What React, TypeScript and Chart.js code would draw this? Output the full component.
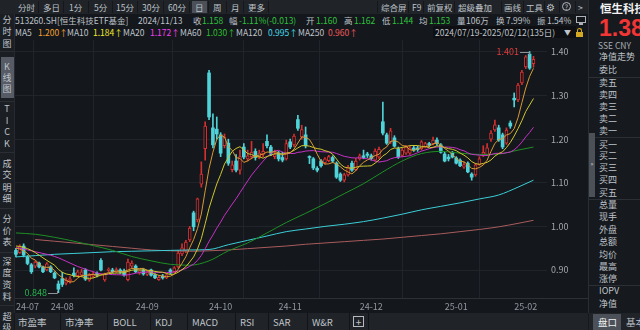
import React, { useEffect, useRef } from "react";
import { Chart, registerables } from "chart.js";

Chart.register(...registerables);

const FONT = '"Noto Sans CJK SC", "Noto Sans", sans-serif';

// ---------------- data (513260.SH daily, 2024/07/19 - 2025/02/12) ----------------
const opens = [
  0.945, 0.940, 0.955, 0.930, 0.912, 0.909, 0.916, 0.907, 0.900, 0.907,
  0.893, 0.868, 0.880, 0.870, 0.875, 0.893, 0.887, 0.888, 0.900, 0.877,
  0.886, 0.892, 0.922, 0.877, 0.899, 0.900, 0.896, 0.900, 0.898, 0.878,
  0.909, 0.909, 0.893, 0.900, 0.890, 0.900, 0.889, 0.878, 0.886, 0.882,
  0.900, 0.896, 0.907, 0.937, 0.944, 0.969, 1.031, 1.015, 1.097, 1.178,
  1.352, 1.226, 1.223, 1.210, 1.185, 1.191, 1.130, 1.150, 1.129, 1.182,
  1.155, 1.160, 1.172, 1.160, 1.165, 1.195, 1.182, 1.160, 1.168, 1.158,
  1.155, 1.194, 1.187, 1.245, 1.205, 1.210, 1.160, 1.155, 1.133, 1.150,
  1.146, 1.151, 1.158, 1.145, 1.120, 1.106, 1.118, 1.145, 1.130, 1.155,
  1.162, 1.166, 1.162, 1.152, 1.159, 1.240, 1.210, 1.194, 1.203, 1.178,
  1.163, 1.168, 1.168, 1.180, 1.180, 1.178, 1.183, 1.190, 1.190, 1.198,
  1.187, 1.166, 1.159, 1.168, 1.157, 1.152, 1.136, 1.145, 1.120, 1.118,
  1.142, 1.165, 1.164, 1.200, 1.221, 1.226, 1.210, 1.191, 1.237, 1.294,
  1.290, 1.329, 1.366, 1.395, 1.373,
];
const highs = [
  0.950, 0.958, 0.960, 0.933, 0.915, 0.921, 0.918, 0.909, 0.917, 0.910,
  0.896, 0.875, 0.895, 0.882, 0.885, 0.905, 0.900, 0.902, 0.903, 0.892,
  0.895, 0.896, 0.926, 0.893, 0.905, 0.904, 0.905, 0.903, 0.902, 0.925,
  0.921, 0.912, 0.901, 0.903, 0.898, 0.902, 0.892, 0.887, 0.890, 0.892,
  0.903, 0.908, 0.945, 0.960, 0.968, 1.000, 1.035, 1.065, 1.148, 1.240,
  1.358, 1.258, 1.251, 1.215, 1.212, 1.200, 1.150, 1.165, 1.175, 1.190,
  1.175, 1.195, 1.178, 1.175, 1.190, 1.210, 1.186, 1.175, 1.172, 1.170,
  1.198, 1.200, 1.212, 1.255, 1.232, 1.228, 1.162, 1.158, 1.137, 1.153,
  1.158, 1.163, 1.162, 1.148, 1.123, 1.122, 1.140, 1.150, 1.156, 1.166,
  1.175, 1.170, 1.166, 1.178, 1.182, 1.285, 1.214, 1.225, 1.208, 1.182,
  1.180, 1.186, 1.184, 1.186, 1.184, 1.197, 1.193, 1.193, 1.205, 1.203,
  1.190, 1.170, 1.165, 1.172, 1.160, 1.155, 1.148, 1.148, 1.123, 1.145,
  1.160, 1.185, 1.190, 1.220, 1.244, 1.232, 1.214, 1.226, 1.242, 1.306,
  1.328, 1.358, 1.392, 1.401, 1.390,
];
const lows = [
  0.930, 0.938, 0.930, 0.912, 0.892, 0.905, 0.905, 0.894, 0.898, 0.894,
  0.880, 0.848, 0.862, 0.866, 0.870, 0.884, 0.885, 0.884, 0.876, 0.874,
  0.883, 0.884, 0.898, 0.874, 0.896, 0.893, 0.893, 0.892, 0.886, 0.875,
  0.905, 0.894, 0.890, 0.888, 0.887, 0.886, 0.880, 0.876, 0.879, 0.880,
  0.891, 0.894, 0.905, 0.933, 0.940, 0.965, 0.990, 1.010, 1.090, 1.152,
  1.245, 1.180, 1.200, 1.160, 1.180, 1.140, 1.125, 1.125, 1.120, 1.155,
  1.150, 1.155, 1.152, 1.155, 1.160, 1.180, 1.162, 1.155, 1.150, 1.148,
  1.152, 1.178, 1.183, 1.220, 1.200, 1.180, 1.144, 1.130, 1.125, 1.136,
  1.143, 1.148, 1.146, 1.110, 1.103, 1.102, 1.115, 1.126, 1.128, 1.152,
  1.155, 1.158, 1.152, 1.150, 1.156, 1.210, 1.188, 1.190, 1.182, 1.156,
  1.160, 1.165, 1.165, 1.172, 1.172, 1.175, 1.180, 1.183, 1.187, 1.186,
  1.168, 1.148, 1.150, 1.157, 1.143, 1.137, 1.133, 1.123, 1.106, 1.115,
  1.140, 1.160, 1.162, 1.195, 1.218, 1.195, 1.178, 1.188, 1.225, 1.274,
  1.286, 1.325, 1.362, 1.360, 1.365,
];
const closes = [
  0.936, 0.953, 0.934, 0.915, 0.896, 0.918, 0.907, 0.896, 0.914, 0.896,
  0.882, 0.856, 0.867, 0.877, 0.880, 0.887, 0.896, 0.896, 0.879, 0.888,
  0.891, 0.888, 0.900, 0.890, 0.902, 0.896, 0.901, 0.895, 0.889, 0.918,
  0.916, 0.896, 0.898, 0.891, 0.895, 0.888, 0.882, 0.883, 0.882, 0.889,
  0.893, 0.905, 0.939, 0.951, 0.964, 0.996, 0.999, 1.063, 1.120, 1.230,
  1.251, 1.187, 1.212, 1.168, 1.205, 1.145, 1.141, 1.129, 1.160, 1.159,
  1.162, 1.170, 1.158, 1.168, 1.172, 1.185, 1.168, 1.165, 1.155, 1.152,
  1.190, 1.182, 1.207, 1.225, 1.222, 1.185, 1.158, 1.134, 1.129, 1.139,
  1.155, 1.160, 1.150, 1.113, 1.106, 1.118, 1.136, 1.129, 1.150, 1.162,
  1.158, 1.163, 1.156, 1.173, 1.177, 1.214, 1.191, 1.219, 1.184, 1.159,
  1.175, 1.182, 1.180, 1.175, 1.176, 1.194, 1.190, 1.186, 1.198, 1.190,
  1.170, 1.150, 1.155, 1.159, 1.145, 1.139, 1.142, 1.125, 1.113, 1.141,
  1.155, 1.170, 1.180, 1.214, 1.233, 1.198, 1.182, 1.221, 1.230, 1.290,
  1.324, 1.354, 1.389, 1.363, 1.383,
];

// MA values on the first days (before the window has enough candles)
const ma5Lead = [0.950, 0.948, 0.944, 0.938];
const ma10Lead = [0.955, 0.954, 0.952, 0.949, 0.945, 0.940, 0.934, 0.928, 0.922];
const ma20Lead = [
  0.951, 0.950, 0.948, 0.946, 0.944, 0.942, 0.940, 0.938, 0.936, 0.934,
  0.931, 0.928, 0.924, 0.920, 0.916, 0.912, 0.908, 0.905, 0.902,
];

// long moving averages at these candle indices
const maIdx = [0, 5, 10, 15, 20, 25, 30, 35, 40, 45, 50, 55, 60, 65, 70, 75, 80, 85, 90, 95, 100, 105, 110, 115, 120, 125, 130, 134];
const ma60 = [0.985, 0.982, 0.975, 0.966, 0.956, 0.945, 0.931, 0.921, 0.913, 0.911, 0.921, 0.944, 0.962, 0.985, 1.009, 1.030, 1.052, 1.075, 1.098, 1.125, 1.150, 1.167, 1.172, 1.168, 1.165, 1.166, 1.175, 1.182];
const ma120 = [0.930, 0.933, 0.936, 0.938, 0.940, 0.942, 0.943, 0.944, 0.945, 0.946, 0.947, 0.958, 0.968, 0.978, 0.988, 0.994, 1.000, 1.005, 1.011, 1.019, 1.028, 1.038, 1.046, 1.054, 1.063, 1.072, 1.090, 1.106];
const ma250 = [null, 0.970, 0.966, 0.962, 0.958, 0.954, 0.950, 0.946, 0.944, 0.943, 0.944, 0.946, 0.949, 0.952, 0.955, 0.959, 0.962, 0.965, 0.968, 0.971, 0.975, 0.979, 0.983, 0.988, 0.993, 0.999, 1.007, 1.014];

const monthStartIdx = [0, 9, 31, 50, 68, 89, 111, 129];
const monthLabels = ["24-07", "24-08", "24-09", "24-10", "24-11", "24-12", "25-01", "25-02"];
const priceTicks = [0.9, 1.0, 1.1, 1.2, 1.3, 1.4];

// ---------------- styles ----------------
const BG = "#14171c";
const UP = "#d3302f";
const DOWN = "#4fd3d8";
const GRID = "#21252b";
const LBL = "#bfc3c9";
const C_MA5 = "#d99a32";
const C_MA10 = "#cfc72c";
const C_MA20 = "#c832c8";
const C_MA60 = "#1f8f25";
const C_MA120 = "#3ccfd8";
const C_MA250 = "#a95c5c";

function movingAverage(n: number, lead: number[]) {
  return closes.map((_, i) => {
    if (i < n - 1) return { x: i, y: lead[i] };
    let s = 0;
    for (let k = i - n + 1; k <= i; k++) s += closes[k];
    return { x: i, y: s / n };
  });
}

const isUp = (i: number) => closes[i] >= opens[i];

const extremeLabels = {
  id: "extremeLabels",
  afterDatasetsDraw(chart: any) {
    const { ctx, scales } = chart;
    const xs = scales.x;
    const ys = scales.y;
    let hi = 0;
    let lo = 0;
    highs.forEach((h, i) => { if (h > highs[hi]) hi = i; });
    lows.forEach((l, i) => { if (l < lows[lo]) lo = i; });
    ctx.save();
    ctx.font = `9px ${FONT}`;
    ctx.textBaseline = "middle";
    ctx.textAlign = "right";
    ctx.strokeStyle = "#8d9298";
    ctx.lineWidth = 1;
    const hx = Math.round(xs.getPixelForValue(hi));
    const hy = Math.round(ys.getPixelForValue(highs[hi]));
    ctx.beginPath();
    ctx.moveTo(hx - 10, hy + 0.5);
    ctx.lineTo(hx - 0.5, hy + 0.5);
    ctx.lineTo(hx - 0.5, hy + 3);
    ctx.stroke();
    ctx.fillStyle = "#e03c3c";
    ctx.fillText(highs[hi].toFixed(3), hx - 11, hy);
    const lx = Math.round(xs.getPixelForValue(lo));
    const ly = Math.round(ys.getPixelForValue(lows[lo]));
    ctx.beginPath();
    ctx.moveTo(lx - 10, ly + 0.5);
    ctx.lineTo(lx - 0.5, ly + 0.5);
    ctx.lineTo(lx - 0.5, ly - 2);
    ctx.stroke();
    ctx.fillStyle = "#24b34c";
    ctx.fillText(lows[lo].toFixed(3), lx - 11, ly);
    ctx.restore();
  },
};

function KChart() {
  const ref = useRef<HTMLCanvasElement | null>(null);
  useEffect(() => {
    if (!ref.current) return;
    const lineDs = (label: string, data: any[], color: string, smooth: boolean) => ({
      type: "line",
      label,
      data,
      borderColor: color,
      borderWidth: 1,
      pointRadius: 0,
      fill: false,
      spanGaps: true,
      cubicInterpolationMode: smooth ? "monotone" : "default",
      tension: 0,
      order: 0,
    });
    const chart = new Chart(ref.current, {
      type: "bar",
      data: {
        datasets: [
          lineDs("MA5", movingAverage(5, ma5Lead), C_MA5, false),
          lineDs("MA10", movingAverage(10, ma10Lead), C_MA10, false),
          lineDs("MA20", movingAverage(20, ma20Lead), C_MA20, false),
          lineDs("MA60", maIdx.map((x, k) => ({ x, y: ma60[k] })), C_MA60, true),
          lineDs("MA120", maIdx.map((x, k) => ({ x, y: ma120[k] })), C_MA120, true),
          lineDs("MA250", maIdx.map((x, k) => ({ x, y: ma250[k] })), C_MA250, true),
          {
            type: "bar",
            label: "body",
            data: opens.map((o, i) => ({ x: i, y: [Math.min(o, closes[i]), Math.max(o, closes[i])] })),
            barThickness: 3,
            grouped: false,
            minBarLength: 1,
            borderSkipped: false,
            backgroundColor: (c: any) => (isUp(c.dataIndex) ? BG : DOWN),
            borderColor: (c: any) => (isUp(c.dataIndex) ? UP : DOWN),
            borderWidth: (c: any) => (isUp(c.dataIndex) ? 1 : 0),
            order: 1,
          },
          {
            type: "bar",
            label: "wick",
            data: highs.map((h, i) => ({ x: i, y: [lows[i], h] })),
            barThickness: 1,
            grouped: false,
            borderWidth: 0,
            backgroundColor: (c: any) => (isUp(c.dataIndex) ? UP : DOWN),
            order: 2,
          },
        ] as any,
      },
      options: {
        animation: false,
        responsive: false,
        devicePixelRatio: 1,
        events: [],
        layout: { padding: 0 },
        plugins: { legend: { display: false }, tooltip: { enabled: false } },
        scales: {
          x: {
            type: "linear",
            min: -0.5,
            max: 137.5,
            offset: false,
            border: { display: false },
            grid: { color: GRID, drawTicks: false },
            ticks: {
              autoSkip: false,
              maxRotation: 0,
              align: "start",
              padding: 3,
              color: "#9297a0",
              font: { size: 9, family: FONT },
              callback: (v: any) => {
                const k = monthStartIdx.indexOf(Number(v));
                return k >= 0 ? monthLabels[k] : "";
              },
            },
            afterBuildTicks: (s: any) => {
              s.ticks = monthStartIdx.map((v) => ({ value: v }));
            },
            afterFit: (s: any) => {
              s.height = 15;
              s.paddingLeft = 0;
              s.paddingRight = 0;
            },
          },
          y: {
            type: "linear",
            position: "right",
            min: 0.8358,
            max: 1.4275,
            border: { display: false },
            grid: { color: GRID, drawTicks: false },
            ticks: {
              padding: 4,
              color: "#a3a8ae",
              font: { size: 9, family: FONT },
              callback: (v: any) => Number(v).toFixed(2),
            },
            afterBuildTicks: (s: any) => {
              s.ticks = priceTicks.map((v) => ({ value: v }));
            },
            afterFit: (s: any) => {
              s.width = 41;
              s.paddingTop = 0;
              s.paddingBottom = 0;
            },
          },
        },
      } as any,
      plugins: [extremeLabels],
    });
    return () => chart.destroy();
  }, []);
  return (
    <canvas
      ref={ref}
      width={574}
      height={273}
      style={{ position: "absolute", left: 14, top: 40, width: 574, height: 273, display: "block" }}
    />
  );
}

// ---------------- UI helpers ----------------
const T = ({ x, y, c = LBL, s = 9, w = 400, children }: any) => (
  <div
    style={{
      position: "absolute",
      left: x,
      top: y - 8,
      height: 16,
      lineHeight: "16px",
      fontSize: s,
      color: c,
      fontWeight: w,
      whiteSpace: "nowrap",
      fontFamily: FONT,
    }}
  >
    {children}
  </div>
);
const Box = ({ x, y, w, h, bg, bd }: any) => (
  <div
    style={{
      position: "absolute",
      left: x,
      top: y,
      width: w,
      height: h,
      background: bg || "transparent",
      border: bd || "none",
      boxSizing: "border-box",
    }}
  />
);

export default function App() {
  const tabs: [string, number][] = [
    ["分时", 18], ["多日", 43], ["1分", 69], ["5分", 94], ["15分", 116], ["30分", 142],
    ["60分", 168], ["日", 195], ["周", 213], ["月", 231], ["更多", 248],
  ];
  const tabSeps = [38, 63, 88, 112, 137, 163, 189, 208, 226, 243, 268];
  const tools: [string, number][] = [
    ["综合屏", 381], ["F9", 412], ["前复权", 427], ["超级叠加", 458], ["画线", 504], ["工具", 526],
  ];
  const toolSeps = [377, 408, 423, 454, 501, 523, 544, 559, 575];
  const side: [string, number][] = [
    ["分", 20], ["时", 32], ["图", 44],
    ["K", 67], ["线", 78], ["图", 89],
    ["T", 109], ["I", 121], ["C", 132], ["K", 144],
    ["成", 164], ["交", 175], ["明", 188], ["细", 199],
    ["分", 219], ["价", 231], ["表", 242],
    ["深", 262], ["度", 273], ["资", 285], ["料", 297],
    ["超", 317], ["级", 328],
  ];
  const sideSeps = [51, 101, 152, 208, 252, 305];
  const panel: [string, number][] = [
    ["净值走势", 57], ["委比", 70],
    ["卖五", 83], ["卖四", 95], ["卖三", 107], ["卖二", 119], ["卖一", 131],
    ["买一", 145], ["买二", 156], ["买三", 168], ["买四", 180], ["买五", 193],
    ["总量", 205], ["现手", 217], ["外盘", 230], ["总额", 242], ["均价", 255], ["最高", 267], ["涨停", 279],
    ["IOPV", 291], ["净值", 304],
  ];
  const panelSeps = [77, 137, 199, 285];
  const bottomTabs: [string, number][] = [
    ["市盈率", 18], ["市净率", 65], ["BOLL", 113], ["KDJ", 155], ["MACD", 192], ["RSI", 240], ["SAR", 273], ["W&R", 312],
  ];
  const bottomSeps = [60, 107, 150, 187, 235, 268, 307, 349, 368];
  const row2: [string, number, string][] = [
    ["513260.SH[恒生科技ETF基金]", 15, LBL],
    ["2024/11/13", 138, LBL],
    ["收", 193, LBL], ["1.158", 202, "#2fc23c"],
    ["幅", 229, LBL], ["-1.11%(-0.013)", 239, "#2fc23c"],
    ["开", 306, LBL], ["1.160", 316, "#2fc23c"],
    ["高", 344, LBL], ["1.162", 354, "#2fc23c"],
    ["低", 382, LBL], ["1.144", 392, "#2fc23c"],
    ["均", 419, LBL], ["1.153", 429, "#2fc23c"],
    ["量", 457, LBL], ["106万", 466, LBL],
    ["换", 496, LBL], ["7.99%", 506, LBL],
    ["振", 537, LBL], ["1.54%", 547, LBL],
  ];
  const row3: [string, number, string][] = [
    ["MA5", 15, LBL], ["1.200↑", 38, "#f0a030"],
    ["MA10", 67, LBL], ["1.184↑", 93, "#eeea2c"],
    ["MA20", 123, LBL], ["1.172↑", 150, "#f040f0"],
    ["MA60", 180, LBL], ["1.030↑", 206, "#2cbf2c"],
    ["MA120", 236, LBL], ["0.995↑", 268, "#46dcea"],
    ["MA250", 298, LBL], ["0.960↑", 328, "#f05a5a"],
  ];
  return (
    <div
      style={{
        position: "fixed",
        left: 0,
        top: 0,
        width: 640,
        height: 330,
        overflow: "hidden",
        background: BG,
        fontFamily: FONT,
      }}
    >
      {/* top tab row */}
      <Box x={0} y={0} w={588} h={14} bg="#202328" />
      <Box x={192} y={1} w={15} h={12} bg="#4b5059" />
      {tabSeps.map((x, i) => <Box key={"ts" + i} x={x} y={1} w={1} h={12} bg="#15171b" />)}
      {tabs.map(([t, x], i) => <T key={"t" + i} x={x} y={7} s={8.5}>{t}</T>)}
      {toolSeps.map((x, i) => <Box key={"tls" + i} x={x} y={1} w={1} h={12} bg="#15171b" />)}
      {tools.map(([t, x], i) => <T key={"tl" + i} x={x} y={7} s={8.5}>{t}</T>)}
      <T x={546} y={7} s={10}>⚙</T>
      <div style={{ position: "absolute", left: 562, top: 2, width: 9, height: 9, border: "1px solid #b5b9c0", borderRadius: 6, boxSizing: "border-box", fontSize: 7, lineHeight: "8px", textAlign: "center", color: LBL }}>?</div>
      <T x={578} y={7} s={8.5}>&gt;</T>

      {/* sidebar */}
      <Box x={0} y={14} w={14} h={316} bg="#1b1e23" />
      <Box x={14} y={14} w={1} h={299} bg="#262a30" />
      <Box x={1} y={57} w={13} h={41} bg="#565b65" />
      {sideSeps.map((y, i) => <Box key={"ss" + i} x={0} y={y} w={14} h={1} bg="#2b2f35" />)}
      {side.map(([t, y], i) => (
        <div key={"sd" + i} style={{ position: "absolute", left: 0, width: 14, top: y - 6, height: 12, lineHeight: "12px", fontSize: 9, textAlign: "center", color: LBL }}>{t}</div>
      ))}

      {/* header rows */}
      {row2.map(([t, x, c], i) => <T key={"r2" + i} x={x} y={19.5} c={c} s={8.5}>{t}</T>)}
      {row3.map(([t, x, c], i) => <T key={"r3" + i} x={x} y={32} c={c} s={8.5}>{t}</T>)}
      <Box x={576} y={16} w={10} h={7} bd="1px solid #aeb2b8" />
      <Box x={579} y={23} w={4} h={2} bg="#aeb2b8" />
      <Box x={433} y={26} w={143} h={12} bg="#0d0f12" />
      <T x={435} y={32} s={8.5}>2024/07/19-2025/02/12(135日)</T>
      <T x={564} y={32} s={7}>▼</T>
      <Box x={576} y={32} w={7} h={5} bg="#d5a821" />
      <div style={{ position: "absolute", left: 577, top: 28, width: 5, height: 5, border: "1px solid #d5a821", borderBottom: "none", borderRadius: "3px 3px 0 0", boxSizing: "border-box" }} />

      {/* x axis line */}
      <Box x={15} y={298} w={573} h={1} bg="#2c3037" />

      <KChart />

      {/* bottom bar */}
      <Box x={15} y={313} w={573} h={17} bg="#202328" />
      {bottomSeps.map((x, i) => <Box key={"bs" + i} x={x} y={313} w={1} h={17} bg="#121418" />)}
      {bottomTabs.map(([t, x], i) => <T key={"bt" + i} x={x} y={322} s={9.5}>{t}</T>)}
      <div style={{ position: "absolute", left: 353, top: 316, width: 11, height: 11, border: "1px solid #b5b9c0", boxSizing: "border-box", fontSize: 10, lineHeight: "9px", textAlign: "center", color: LBL }}>+</div>

      {/* right panel */}
      <Box x={588} y={0} w={52} h={330} bg="#16191e" />
      <Box x={588} y={0} w={1} h={313} bg="#2a2e34" />
      <T x={600} y={8} c="#f2f2f2" s={11.5} w={700}>恒生科技</T>
      <div style={{ position: "absolute", left: 599, top: 15, height: 26, lineHeight: "26px", fontSize: 23, fontWeight: 700, color: "#f23535", whiteSpace: "nowrap", fontFamily: '"Liberation Sans", Arial, sans-serif' }}>1.383</div>
      <T x={598} y={45} c="#a6abb1" s={8.5}>SSE  CNY</T>
      {panelSeps.map((y, i) => <Box key={"ps" + i} x={589} y={y} w={51} h={1} bg="#2c3036" />)}
      {panel.map(([t, y], i) => <T key={"pn" + i} x={599} y={y} s={9}>{t}</T>)}
      <Box x={589} y={133} w={6} h={64} bg="#4c5057" />
      <div style={{ position: "absolute", left: 589, top: 160, width: 6, fontSize: 6, color: "#c9ccd0", textAlign: "center", lineHeight: "8px" }}>»</div>
      <Box x={589} y={313} w={51} h={17} bg="#202328" />
      <Box x={593} y={314} w={28} h={16} bg="#4b5059" />
      <T x={598} y={322} c="#f0f0f0" s={9.5}>盘口</T>
      <T x={626} y={322} s={9.5}>基本</T>
    </div>
  );
}
